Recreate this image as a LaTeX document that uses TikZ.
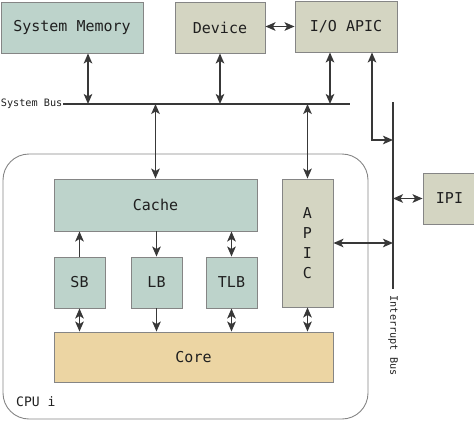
\documentclass[tikz,border=0pt]{standalone}
\usepackage{fontspec}
\newfontfamily\mono{DejaVu Sans Mono}
\usetikzlibrary{arrows.meta}
\definecolor{teal1}{HTML}{BDD3CB}
\definecolor{olive1}{HTML}{D4D5C2}
\definecolor{core1}{HTML}{ECD5A3}
\definecolor{bord}{HTML}{858585}
\definecolor{arrc}{HTML}{383838}
\tikzset{
  box/.style={draw=bord, line width=0.9pt, inner sep=0pt, font=\mono\fontsize{15}{20}\selectfont, text=black!88},
  tbox/.style={box, fill=teal1},
  obox/.style={box, fill=olive1},
  cbox/.style={box, fill=core1},
  conn/.style={draw=arrc, line width=1.8pt},
  dbl/.style={conn, {Stealth[length=10pt,width=8.5pt,inset=2.5pt]}-{Stealth[length=10pt,width=8.5pt,inset=2.5pt]}},
  sgl/.style={conn, -{Stealth[length=10pt,width=8.5pt,inset=2.5pt]}},
  small/.style={font=\mono\fontsize{10.2}{12}\selectfont, text=black!88, inner sep=0.5pt}
}
\begin{document}
\begin{tikzpicture}[x=1pt,y=-1pt]
\useasboundingbox (0,0) rectangle (474,421);
% CPU frame
\draw[draw=bord, line width=0.9pt, rounded corners=26pt] (3,154) rectangle (368,419);
\node[anchor=west, font=\mono\fontsize{13}{15}\selectfont, text=black!88, inner sep=0] (cpu) at (16,402) {CPU i};
% boxes
\node[tbox, minimum width=142pt, minimum height=51pt] (mem) at (72,27.5) {System Memory};
\node[obox, minimum width=90pt, minimum height=51pt] (dev) at (220,27.5) {Device};
\node[obox, minimum width=102pt, minimum height=51pt] (io) at (346,26.5) {I/O APIC};
\node[obox, minimum width=53pt, minimum height=51pt] (ipi) at (449.5,198.5) {IPI};
\node[tbox, minimum width=203pt, minimum height=52pt] (cache) at (155.5,205) {Cache};
\node[tbox, minimum width=51pt, minimum height=51pt] (sb) at (79.5,282.5) {SB};
\node[tbox, minimum width=51pt, minimum height=51pt] (lb) at (156.5,282.5) {LB};
\node[tbox, minimum width=51pt, minimum height=51pt] (tlb) at (231.5,282.5) {TLB};
\node[obox, minimum width=51pt, minimum height=128pt, align=center] (apic) at (307.5,243) {A\\P\\I\\C};
\node[cbox, minimum width=279pt, minimum height=50pt] (core) at (193.5,357) {Core};
% buses
\coordinate (bL) at (63,104);
\coordinate (bR) at (350,104);
\draw[draw=arrc, line width=1.8pt] (bL) -- (bR);
\node[small, anchor=east] (sysbus) at (bL) {System Bus};
\coordinate (iT) at (393,102);
\coordinate (iB) at (393,289);
\draw[draw=arrc, line width=2.2pt] (iT) -- (iB);
\node[small, anchor=west, rotate=-90] (intbus) at (393,295) {Interrupt Bus};
\coordinate (i140) at (393,140);
% connectors
\draw[dbl] ([xshift=16pt]mem.south) -- ([xshift=16pt]mem.south |- bL);
\draw[dbl] (dev.south) -- (dev.south |- bL);
\draw[dbl] (dev.east |- io.west) -- (io.west);
\draw[dbl] ([xshift=-16pt]io.south) -- ([xshift=-16pt]io.south |- bL);
\draw[dbl] ([xshift=26pt]io.south) |- (i140);
\draw[dbl] (cache.north |- bL) -- (cache.north);
\draw[dbl] (apic.north |- bL) -- (apic.north);
\draw[dbl] (apic.east) -- (apic.east -| iT);
\draw[dbl] (ipi.west -| iT) -- (ipi.west);
\draw[sgl] (sb.north) -- (sb.north |- cache.south);
\draw[sgl] (lb.north |- cache.south) -- (lb.north);
\draw[dbl] (tlb.north) -- (tlb.north |- cache.south);
\draw[dbl] (sb.south) -- (sb.south |- core.north);
\draw[sgl] (lb.south) -- (lb.south |- core.north);
\draw[dbl] (tlb.south) -- (tlb.south |- core.north);
\draw[dbl] (apic.south) -- (apic.south |- core.north);
\end{tikzpicture}
\end{document}
